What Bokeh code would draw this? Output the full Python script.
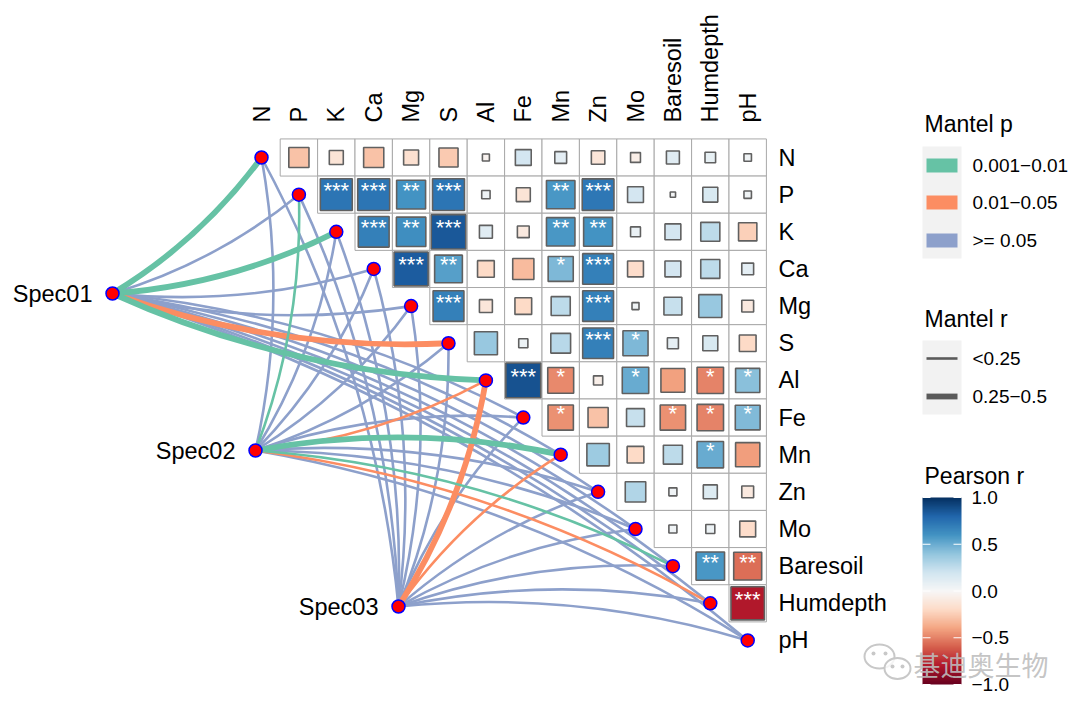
import numpy as np
from bokeh.plotting import figure
from bokeh.models import ColumnDataSource, LinearColorMapper, Range1d
from bokeh.transform import transform
from bokeh.core.properties import value
from bokeh.embed import file_html
from bokeh.resources import INLINE

# ---------------- data ----------------
env_names = ["N", "P", "K", "Ca", "Mg", "S", "Al", "Fe", "Mn", "Zn", "Mo",
             "Baresoil", "Humdepth", "pH"]

# Pearson r, upper triangle; each list = one row, columns to the right of the diagonal
r_N = [-0.29, -0.14, -0.29, -0.16, -0.26, -0.035, 0.18, 0.10, -0.13, -0.07, 0.12, 0.08, 0.04]
r_P = [0.73, 0.73, 0.60, 0.73, 0.05, -0.14, 0.58, 0.72, 0.18, 0.02, 0.16, 0.04]
r_K = [0.68, 0.62, 0.85, 0.12, -0.10, 0.58, 0.60, 0.07, 0.18, 0.26, -0.24]
r_Ca = [0.83, 0.55, -0.20, -0.32, 0.45, 0.68, -0.18, 0.18, 0.26, 0.10]
r_Mg = [0.68, -0.12, -0.20, 0.26, 0.68, 0.035, 0.23, 0.38, -0.10]
r_S = [0.38, 0.06, 0.28, 0.68, 0.45, 0.087, 0.16, -0.20]
r_Al = [0.87, -0.48, -0.06, 0.50, -0.41, -0.50, 0.42]
r_Fe = [-0.46, -0.29, 0.23, -0.46, -0.50, 0.44]
r_Mn = [0.36, -0.20, 0.26, 0.50, -0.42]
r_Zn = [0.30, 0.046, 0.14, -0.10]
r_Mo = [0.046, 0.058, -0.18]
r_Baresoil = [0.58, -0.56]
r_Humdepth = [-0.80]

sig_N = [""] * 13
sig_P = ["***", "***", "**", "***", "", "", "**", "***", "", "", "", ""]
sig_K = ["***", "**", "***", "", "", "**", "**", "", "", "", ""]
sig_Ca = ["***", "**", "", "", "*", "***", "", "", "", ""]
sig_Mg = ["***", "", "", "", "***", "", "", "", ""]
sig_S = ["", "", "", "***", "*", "", "", ""]
sig_Al = ["***", "*", "", "*", "", "*", "*"]
sig_Fe = ["*", "", "", "*", "*", "*"]
sig_Mn = ["", "", "", "*", ""]
sig_Zn = ["", "", "", ""]
sig_Mo = ["", "", ""]
sig_Baresoil = ["**", "**"]
sig_Humdepth = ["***"]

spec_names = ["Spec01", "Spec02", "Spec03"]

# Mantel test classes for each species set vs. each env variable (N..pH)
# p: "a" = 0.001-0.01, "b" = 0.01-0.05, "c" = >= 0.05 ; r: "s" = <0.25, "m" = 0.25-0.5
p_Spec01 = ["a", "c", "a", "c", "c", "b", "a", "c", "c", "c", "c", "c", "c", "c"]
r_Spec01 = ["m", "s", "m", "s", "s", "m", "m", "s", "s", "s", "s", "s", "s", "s"]
p_Spec02 = ["c", "a", "c", "c", "c", "c", "b", "c", "a", "c", "c", "a", "b", "c"]
r_Spec02 = ["s", "s", "s", "s", "s", "s", "s", "s", "m", "s", "s", "s", "s", "s"]
p_Spec03 = ["c", "c", "c", "c", "c", "c", "b", "c", "b", "c", "c", "c", "c", "c"]
r_Spec03 = ["s", "s", "s", "s", "s", "s", "m", "s", "s", "s", "s", "s", "s", "s"]

p_labels = ["0.001\u22120.01", "0.01\u22120.05", ">= 0.05"]
r_labels = ["<0.25", "0.25\u22120.5"]
cbar_ticks = [1.0, 0.5, 0.0, -0.5, -1.0]
cbar_tick_labels = ["1.0", "0.5", "0.0", "\u22120.5", "\u22121.0"]

# ---------------- styles / layout ----------------
FONT = value("Liberation Sans")
P_COLORS = {"a": "#66C2A5", "b": "#FC8D62", "c": "#8DA0CB"}
R_WIDTH = {"s": 2.6, "m": 5.8}
RDBU = ["#67001F", "#B2182B", "#D6604D", "#F4A582", "#FDDBC7", "#F7F7F7",
        "#D1E5F0", "#92C5DE", "#4393C3", "#2166AC", "#053061"]

def interp_palette(cols, n=256):
    rgb = np.array([[int(c[i:i + 2], 16) for i in (1, 3, 5)] for c in cols], float)
    t = np.linspace(0, 1, len(cols))
    tt = np.linspace(0, 1, n)
    out = []
    for v in tt:
        r = np.interp(v, t, rgb[:, 0]); g = np.interp(v, t, rgb[:, 1]); b = np.interp(v, t, rgb[:, 2])
        out.append("#%02x%02x%02x" % (int(round(r)), int(round(g)), int(round(b))))
    return out

mapper = LinearColorMapper(palette=interp_palette(RDBU), low=-1, high=1)

W, H = 1072, 696
SX, SY = 37.4, 37.15
OFFX, OFFY = 1, 0
X0 = -(262 - OFFX) / SX
X1 = X0 + W / SX
Y1 = 13 + (157 - OFFY) / SY
Y0 = Y1 - H / SY

def PX(px):
    return X0 + (px - OFFX) / SX

def PY(py):
    return Y1 - (py - OFFY) / SY

n = len(env_names)
spec_x = [PX(113), PX(256), PX(399)]
spec_y = [PY(293), PY(450), PY(606)]

p = figure(width=W, height=H, x_range=Range1d(X0, X1), y_range=Range1d(Y0, Y1),
           output_backend="svg", toolbar_location=None,
           x_axis_location=None, y_axis_location=None, min_border=0)
p.outline_line_color = None
p.background_fill_color = "white"
p.border_fill_color = "white"
p.xgrid.visible = False
p.ygrid.visible = False

# ---------------- heatmap ----------------
rows_r = [r_N, r_P, r_K, r_Ca, r_Mg, r_S, r_Al, r_Fe, r_Mn, r_Zn, r_Mo, r_Baresoil, r_Humdepth]
rows_s = [sig_N, sig_P, sig_K, sig_Ca, sig_Mg, sig_S, sig_Al, sig_Fe, sig_Mn, sig_Zn, sig_Mo,
          sig_Baresoil, sig_Humdepth]
cx, cy, cr, csz, csig = [], [], [], [], []
for i, (rr, ss) in enumerate(zip(rows_r, rows_s)):
    for k, (v, s) in enumerate(zip(rr, ss)):
        j = i + 1 + k
        cx.append(j); cy.append(n - 1 - i); cr.append(v); csz.append(np.sqrt(abs(v))); csig.append(s)
cells = ColumnDataSource(dict(x=cx, y=cy, r=cr, size=csz, sig=csig,
                              ys=[y + 0.11 for y in cy]))
p.rect(x="x", y="y", width=1, height=1, source=cells, fill_color="white",
       line_color="#A8A8A8", line_width=1)
p.rect(x="x", y="y", width="size", height="size", source=cells,
       fill_color=transform("r", mapper), line_color="#606060", line_width=1.6)
p.text(x="x", y="ys", text="sig", source=cells, text_color="white", text_font=FONT,
       text_font_size="22px", text_align="center", text_baseline="middle")

# ---------------- mantel curves ----------------
p_all = [p_Spec01, p_Spec02, p_Spec03]
r_all = [r_Spec01, r_Spec02, r_Spec03]
edges = []
for si in range(3):
    for e in range(n):
        xa, ya = spec_x[si], spec_y[si]
        xb, yb = e, n - 1 - e
        dx, dy = xb - xa, yb - ya
        if e <= 6:
            px_, py_ = dy, -dx
        else:
            px_, py_ = -dy, dx
        ctrlx = (xa + xb) / 2 + 0.1 * px_
        ctrly = (ya + yb) / 2 + 0.1 * py_
        edges.append((p_all[si][e], r_all[si][e], xa, ya, xb, yb, ctrlx, ctrly))
order = {"c": 0, "b": 1, "a": 2}
edges.sort(key=lambda t: order[t[0]])
es = ColumnDataSource(dict(
    x0=[t[2] for t in edges], y0=[t[3] for t in edges],
    x1=[t[4] for t in edges], y1=[t[5] for t in edges],
    cx=[t[6] for t in edges], cy=[t[7] for t in edges],
    col=[P_COLORS[t[0]] for t in edges], lw=[R_WIDTH[t[1]] for t in edges]))
p.quadratic(x0="x0", y0="y0", x1="x1", y1="y1", cx="cx", cy="cy", source=es,
            line_color="col", line_width="lw")

# ---------------- nodes ----------------
p.scatter(x=list(range(n)), y=[n - 1 - i for i in range(n)], size=13,
          fill_color="red", line_color="blue", line_width=1.5)
p.scatter(x=spec_x, y=spec_y, size=13, fill_color="red", line_color="blue", line_width=1.5)

# ---------------- labels ----------------
p.text(x=list(range(n)), y=[n - 0.5 + 0.44] * n, text=env_names, angle=np.pi / 2,
       text_font=FONT, text_font_size="23.5px", text_align="left", text_baseline="middle",
       text_color="black")
p.text(x=[PX(779)] * n, y=[n - 1 - i for i in range(n)], text=env_names,
       text_font=FONT, text_font_size="23.5px", text_align="left", text_baseline="middle",
       text_color="black")
p.text(x=[sx - 20 / SX for sx in spec_x], y=spec_y, text=spec_names,
       text_font=FONT, text_font_size="23.5px", text_align="right", text_baseline="middle",
       text_color="black")

# ---------------- legends ----------------
def title(txt, py):
    p.text(x=[PX(925)], y=[PY(py)], text=[txt], text_font=FONT, text_font_size="23px",
           text_align="left", text_baseline="middle", text_color="black")

# Mantel p
title("Mantel p", 123)
p.quad(left=PX(923), right=PX(962), top=PY(146), bottom=PY(258), fill_color="#F2F2F2", line_color=None)
key_y = [PY(165), PY(202), PY(240)]
p.quad(left=[PX(927)] * 3, right=[PX(958)] * 3, top=[y + 7 / SY for y in key_y],
       bottom=[y - 7 / SY for y in key_y], fill_color=[P_COLORS[k] for k in "abc"], line_color=None)
p.text(x=[PX(973)] * 3, y=key_y, text=p_labels, text_font=FONT, text_font_size="19px",
       text_align="left", text_baseline="middle", text_color="black")

# Mantel r
title("Mantel r", 318)
p.quad(left=PX(923), right=PX(962), top=PY(340), bottom=PY(414), fill_color="#F2F2F2", line_color=None)
ly = [PY(358), PY(396)]
p.segment(x0=[PX(927)] * 2, x1=[PX(958)] * 2, y0=ly, y1=ly, line_color="#5A5A5A",
          line_width=[R_WIDTH["s"], R_WIDTH["m"]])
p.text(x=[PX(973)] * 2, y=ly, text=r_labels, text_font=FONT, text_font_size="19px",
       text_align="left", text_baseline="middle", text_color="black")

# Pearson r colour bar
title("Pearson r", 475)
bar_top, bar_bot = 497, 684
grad = np.linspace(-1, 1, 256).reshape(256, 1)
p.image(image=[grad], x=PX(923), y=PY(bar_bot), dw=39 / SX, dh=(bar_bot - bar_top) / SY,
        color_mapper=mapper)
tick_y = [PY(bar_bot) + (t + 1) / 2 * (bar_bot - bar_top) / SY for t in cbar_ticks]
p.segment(x0=[PX(923)] * 5, x1=[PX(931)] * 5, y0=tick_y, y1=tick_y, line_color="white", line_width=1)
p.segment(x0=[PX(954)] * 5, x1=[PX(962)] * 5, y0=tick_y, y1=tick_y, line_color="white", line_width=1)
p.text(x=[PX(972)] * 5, y=tick_y, text=cbar_tick_labels, text_font=FONT, text_font_size="19px",
       text_align="left", text_baseline="middle", text_color="black")

# watermark
p.ellipse(x=[PX(880)], y=[PY(656)], width=30 / SX, height=24 / SY, fill_color="white",
          fill_alpha=0.6, line_color="#C8C8C8", line_width=2)
p.ellipse(x=[PX(898)], y=[PY(668)], width=26 / SX, height=21 / SY, fill_color="white",
          fill_alpha=0.8, line_color="#C8C8C8", line_width=2)
p.scatter(x=[PX(874), PX(886), PX(893), PX(903)], y=[PY(653), PY(653), PY(666), PY(666)],
          size=4, fill_color="#C8C8C8", line_color=None)
p.text(x=[PX(914)], y=[PY(664)], text=["基迪奥生物"], text_font=value("Noto Sans CJK SC"),
       text_font_size="27px", text_align="left", text_baseline="middle",
       text_color="#BDBDBD", text_alpha=0.9)

open("out.html", "w").write(file_html(p, INLINE))
